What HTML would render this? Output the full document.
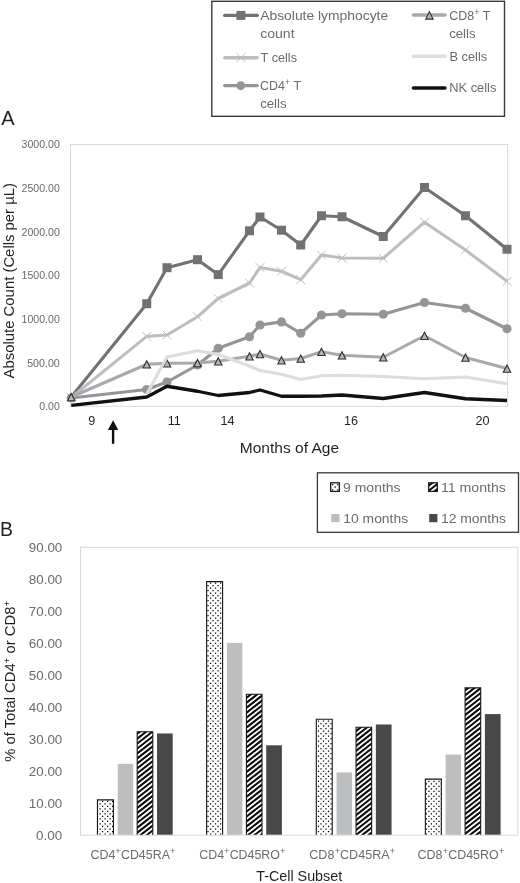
<!DOCTYPE html>
<html lang="en"><head><meta charset="utf-8"><title>Figure</title>
<style>html,body{margin:0;padding:0;background:#fff}svg{display:block}text{font-family:"Liberation Sans", sans-serif}</style>
</head><body>
<svg width="520" height="883" viewBox="0 0 520 883">
<defs>
</defs>
<rect width="520" height="883" fill="#fff"/>
<rect x="211.8" y="1.3" width="292.7" height="115" fill="#fff" stroke="#3a3a3a" stroke-width="1.4"/>
<line x1="224.7" y1="15.4" x2="257.2" y2="15.4" stroke="#717275" stroke-width="3.4" stroke-linecap="round"/>
<rect x="236.40" y="10.90" width="9" height="9" fill="#717275"/>
<text x="260.2" y="19.5" font-size="13" fill="#6a6b6d" textLength="128" lengthAdjust="spacingAndGlyphs">Absolute lymphocyte</text>
<text x="260.2" y="37.6" font-size="13" fill="#6a6b6d" textLength="34.4" lengthAdjust="spacingAndGlyphs">count</text>
<line x1="224.7" y1="57.7" x2="257.2" y2="57.7" stroke="#bcbec0" stroke-width="3.4" stroke-linecap="round"/>
<path d="M236.60 53.30 L245.40 62.10 M236.60 62.10 L245.40 53.30" stroke="#bcbec0" stroke-width="1" fill="none"/>
<text x="260.6" y="61.5" font-size="13" fill="#6a6b6d" textLength="36.4" lengthAdjust="spacingAndGlyphs">T cells</text>
<line x1="224.7" y1="85.6" x2="257.2" y2="85.6" stroke="#939598" stroke-width="3.4" stroke-linecap="round"/>
<circle cx="240.80" cy="85.60" r="4.4" fill="#939598"/>
<text x="260" y="89.6" font-size="13" fill="#6a6b6d" textLength="41" lengthAdjust="spacingAndGlyphs">CD4<tspan font-size="9.5" dy="-4.8">+</tspan><tspan dy="4.8"> T</tspan></text>
<text x="260.2" y="108.3" font-size="13" fill="#6a6b6d" textLength="26.4" lengthAdjust="spacingAndGlyphs">cells</text>
<line x1="413.4" y1="15" x2="445.0" y2="15" stroke="#a7a9ac" stroke-width="3.4" stroke-linecap="round"/>
<path d="M429.40 11.80 L433.11 19.12 L425.69 19.12 Z" fill="#b4b5b7" stroke="#2e2e2e" stroke-width="1.1" stroke-linejoin="miter"/>
<text x="449.3" y="19.9" font-size="13" fill="#6a6b6d" textLength="41" lengthAdjust="spacingAndGlyphs">CD8<tspan font-size="9.5" dy="-4.8">+</tspan><tspan dy="4.8"> T</tspan></text>
<text x="449.2" y="37.6" font-size="13" fill="#6a6b6d" textLength="26.4" lengthAdjust="spacingAndGlyphs">cells</text>
<line x1="413.4" y1="56.3" x2="445.0" y2="56.3" stroke="#dcddde" stroke-width="3.4" stroke-linecap="round"/>
<text x="449.4" y="60.7" font-size="13" fill="#6a6b6d" textLength="37.8" lengthAdjust="spacingAndGlyphs">B cells</text>
<line x1="413.4" y1="88" x2="445.0" y2="88" stroke="#111" stroke-width="3.4" stroke-linecap="round"/>
<text x="449.2" y="92.0" font-size="13" fill="#6a6b6d" textLength="47.2" lengthAdjust="spacingAndGlyphs">NK cells</text>
<text x="1.2" y="125.3" font-size="20" fill="#231f20">A</text>
<text x="0" y="536.3" font-size="19.4" fill="#231f20">B</text>
<rect x="70.5" y="144.5" width="437.2" height="261.8" fill="none" stroke="#d9d9d9" stroke-width="1"/>
<text x="59.8" y="148.40" font-size="10.9" fill="#6a6b6d" text-anchor="end" textLength="38.2" lengthAdjust="spacingAndGlyphs">3000.00</text>
<text x="59.8" y="192.02" font-size="10.9" fill="#6a6b6d" text-anchor="end" textLength="38.2" lengthAdjust="spacingAndGlyphs">2500.00</text>
<text x="59.8" y="235.64" font-size="10.9" fill="#6a6b6d" text-anchor="end" textLength="38.2" lengthAdjust="spacingAndGlyphs">2000.00</text>
<text x="59.8" y="279.26" font-size="10.9" fill="#6a6b6d" text-anchor="end" textLength="38.2" lengthAdjust="spacingAndGlyphs">1500.00</text>
<text x="59.8" y="322.88" font-size="10.9" fill="#6a6b6d" text-anchor="end" textLength="38.2" lengthAdjust="spacingAndGlyphs">1000.00</text>
<text x="59.8" y="366.50" font-size="10.9" fill="#6a6b6d" text-anchor="end" textLength="32.6" lengthAdjust="spacingAndGlyphs">500.00</text>
<text x="59.8" y="410.12" font-size="10.9" fill="#6a6b6d" text-anchor="end" textLength="20.5" lengthAdjust="spacingAndGlyphs">0.00</text>
<text transform="translate(13.6 378.4) rotate(-90)" font-size="13.9" fill="#231f20" textLength="195.4" lengthAdjust="spacingAndGlyphs">Absolute Count (Cells per µL)</text>
<text x="91.75" y="425.4" font-size="12.6" fill="#231f20" text-anchor="middle">9</text>
<text x="174.25" y="425.4" font-size="12.6" fill="#231f20" text-anchor="middle">11</text>
<text x="227.4" y="425.4" font-size="12.6" fill="#231f20" text-anchor="middle">14</text>
<text x="351.1" y="425.4" font-size="12.6" fill="#231f20" text-anchor="middle">16</text>
<text x="482.5" y="425.4" font-size="12.6" fill="#231f20" text-anchor="middle">20</text>
<text x="239.8" y="453.4" font-size="13.9" fill="#231f20" textLength="99.3" lengthAdjust="spacingAndGlyphs">Months of Age</text>
<path d="M113.1 443.8 L113.1 428" stroke="#111" stroke-width="2.4" fill="none"/><path d="M113.1 420.2 L118.3 430.1 L107.9 430.1 Z" fill="#111"/>
<polyline points="71.25,397.00 146.75,303.75 167.00,267.70 197.50,259.70 218.25,274.60 249.50,230.80 260.00,217.00 281.50,230.20 300.75,245.00 321.50,215.75 342.00,216.75 383.25,236.50 424.50,187.50 465.50,215.75 507.00,249.25" fill="none" stroke="#717275" stroke-width="3.1" stroke-linejoin="round" stroke-linecap="butt"/>
<rect x="142.25" y="299.25" width="9" height="9" fill="#717275"/>
<rect x="162.50" y="263.20" width="9" height="9" fill="#717275"/>
<rect x="193.00" y="255.20" width="9" height="9" fill="#717275"/>
<rect x="213.75" y="270.10" width="9" height="9" fill="#717275"/>
<rect x="245.00" y="226.30" width="9" height="9" fill="#717275"/>
<rect x="255.50" y="212.50" width="9" height="9" fill="#717275"/>
<rect x="277.00" y="225.70" width="9" height="9" fill="#717275"/>
<rect x="296.25" y="240.50" width="9" height="9" fill="#717275"/>
<rect x="317.00" y="211.25" width="9" height="9" fill="#717275"/>
<rect x="337.50" y="212.25" width="9" height="9" fill="#717275"/>
<rect x="378.75" y="232.00" width="9" height="9" fill="#717275"/>
<rect x="420.00" y="183.00" width="9" height="9" fill="#717275"/>
<rect x="461.00" y="211.25" width="9" height="9" fill="#717275"/>
<rect x="502.50" y="244.75" width="9" height="9" fill="#717275"/>
<polyline points="71.25,397.50 146.75,336.40 167.00,335.00 197.50,316.75 218.25,298.50 249.50,283.00 260.00,267.50 281.50,271.25 300.75,279.70 321.50,255.00 342.00,258.00 383.25,258.25 424.50,222.20 465.50,250.00 507.00,281.25" fill="none" stroke="#bcbec0" stroke-width="3.1" stroke-linejoin="round" stroke-linecap="butt"/>
<path d="M66.85 393.10 L75.65 401.90 M66.85 401.90 L75.65 393.10" stroke="#bcbec0" stroke-width="1" fill="none"/>
<path d="M142.35 332.00 L151.15 340.80 M142.35 340.80 L151.15 332.00" stroke="#bcbec0" stroke-width="1" fill="none"/>
<path d="M162.60 330.60 L171.40 339.40 M162.60 339.40 L171.40 330.60" stroke="#bcbec0" stroke-width="1" fill="none"/>
<path d="M193.10 312.35 L201.90 321.15 M193.10 321.15 L201.90 312.35" stroke="#bcbec0" stroke-width="1" fill="none"/>
<path d="M213.85 294.10 L222.65 302.90 M213.85 302.90 L222.65 294.10" stroke="#bcbec0" stroke-width="1" fill="none"/>
<path d="M245.10 278.60 L253.90 287.40 M245.10 287.40 L253.90 278.60" stroke="#bcbec0" stroke-width="1" fill="none"/>
<path d="M255.60 263.10 L264.40 271.90 M255.60 271.90 L264.40 263.10" stroke="#bcbec0" stroke-width="1" fill="none"/>
<path d="M277.10 266.85 L285.90 275.65 M277.10 275.65 L285.90 266.85" stroke="#bcbec0" stroke-width="1" fill="none"/>
<path d="M296.35 275.30 L305.15 284.10 M296.35 284.10 L305.15 275.30" stroke="#bcbec0" stroke-width="1" fill="none"/>
<path d="M317.10 250.60 L325.90 259.40 M317.10 259.40 L325.90 250.60" stroke="#bcbec0" stroke-width="1" fill="none"/>
<path d="M337.60 253.60 L346.40 262.40 M337.60 262.40 L346.40 253.60" stroke="#bcbec0" stroke-width="1" fill="none"/>
<path d="M378.85 253.85 L387.65 262.65 M378.85 262.65 L387.65 253.85" stroke="#bcbec0" stroke-width="1" fill="none"/>
<path d="M420.10 217.80 L428.90 226.60 M420.10 226.60 L428.90 217.80" stroke="#bcbec0" stroke-width="1" fill="none"/>
<path d="M461.10 245.60 L469.90 254.40 M461.10 254.40 L469.90 245.60" stroke="#bcbec0" stroke-width="1" fill="none"/>
<path d="M502.60 276.85 L511.40 285.65 M502.60 285.65 L511.40 276.85" stroke="#bcbec0" stroke-width="1" fill="none"/>
<polyline points="71.25,398.00 146.75,389.50 167.00,382.00 197.50,365.00 218.25,348.25 249.50,336.75 260.00,325.00 281.50,321.90 300.75,333.25 321.50,315.00 342.00,313.75 383.25,314.25 424.50,302.50 465.50,308.25 507.00,328.75" fill="none" stroke="#939598" stroke-width="3.1" stroke-linejoin="round" stroke-linecap="butt"/>
<circle cx="71.25" cy="398.00" r="4.6" fill="#939598"/>
<circle cx="146.75" cy="389.50" r="4.6" fill="#939598"/>
<circle cx="167.00" cy="382.00" r="4.6" fill="#939598"/>
<circle cx="197.50" cy="365.00" r="4.6" fill="#939598"/>
<circle cx="218.25" cy="348.25" r="4.6" fill="#939598"/>
<circle cx="249.50" cy="336.75" r="4.6" fill="#939598"/>
<circle cx="260.00" cy="325.00" r="4.6" fill="#939598"/>
<circle cx="281.50" cy="321.90" r="4.6" fill="#939598"/>
<circle cx="300.75" cy="333.25" r="4.6" fill="#939598"/>
<circle cx="321.50" cy="315.00" r="4.6" fill="#939598"/>
<circle cx="342.00" cy="313.75" r="4.6" fill="#939598"/>
<circle cx="383.25" cy="314.25" r="4.6" fill="#939598"/>
<circle cx="424.50" cy="302.50" r="4.6" fill="#939598"/>
<circle cx="465.50" cy="308.25" r="4.6" fill="#939598"/>
<circle cx="507.00" cy="328.75" r="4.6" fill="#939598"/>
<polyline points="71.25,397.00 146.75,364.25 167.00,363.25 197.50,363.00 218.25,361.25 249.50,356.25 260.00,354.00 281.50,360.25 300.75,358.50 321.50,351.75 342.00,355.25 383.25,357.25 424.50,335.75 465.50,357.50 507.00,368.50" fill="none" stroke="#a7a9ac" stroke-width="3.1" stroke-linejoin="round" stroke-linecap="butt"/>
<path d="M71.25 393.40 L74.96 400.72 L67.54 400.72 Z" fill="#b4b5b7" stroke="#2e2e2e" stroke-width="1.1" stroke-linejoin="miter"/>
<path d="M146.75 360.65 L150.46 367.97 L143.04 367.97 Z" fill="#b4b5b7" stroke="#2e2e2e" stroke-width="1.1" stroke-linejoin="miter"/>
<path d="M167.00 359.65 L170.71 366.97 L163.29 366.97 Z" fill="#b4b5b7" stroke="#2e2e2e" stroke-width="1.1" stroke-linejoin="miter"/>
<path d="M197.50 359.40 L201.21 366.72 L193.79 366.72 Z" fill="#b4b5b7" stroke="#2e2e2e" stroke-width="1.1" stroke-linejoin="miter"/>
<path d="M218.25 357.65 L221.96 364.97 L214.54 364.97 Z" fill="#b4b5b7" stroke="#2e2e2e" stroke-width="1.1" stroke-linejoin="miter"/>
<path d="M249.50 352.65 L253.21 359.97 L245.79 359.97 Z" fill="#b4b5b7" stroke="#2e2e2e" stroke-width="1.1" stroke-linejoin="miter"/>
<path d="M260.00 350.40 L263.71 357.72 L256.29 357.72 Z" fill="#b4b5b7" stroke="#2e2e2e" stroke-width="1.1" stroke-linejoin="miter"/>
<path d="M281.50 356.65 L285.21 363.97 L277.79 363.97 Z" fill="#b4b5b7" stroke="#2e2e2e" stroke-width="1.1" stroke-linejoin="miter"/>
<path d="M300.75 354.90 L304.46 362.22 L297.04 362.22 Z" fill="#b4b5b7" stroke="#2e2e2e" stroke-width="1.1" stroke-linejoin="miter"/>
<path d="M321.50 348.15 L325.21 355.47 L317.79 355.47 Z" fill="#b4b5b7" stroke="#2e2e2e" stroke-width="1.1" stroke-linejoin="miter"/>
<path d="M342.00 351.65 L345.71 358.97 L338.29 358.97 Z" fill="#b4b5b7" stroke="#2e2e2e" stroke-width="1.1" stroke-linejoin="miter"/>
<path d="M383.25 353.65 L386.96 360.97 L379.54 360.97 Z" fill="#b4b5b7" stroke="#2e2e2e" stroke-width="1.1" stroke-linejoin="miter"/>
<path d="M424.50 332.15 L428.21 339.47 L420.79 339.47 Z" fill="#b4b5b7" stroke="#2e2e2e" stroke-width="1.1" stroke-linejoin="miter"/>
<path d="M465.50 353.90 L469.21 361.22 L461.79 361.22 Z" fill="#b4b5b7" stroke="#2e2e2e" stroke-width="1.1" stroke-linejoin="miter"/>
<path d="M507.00 364.90 L510.71 372.22 L503.29 372.22 Z" fill="#b4b5b7" stroke="#2e2e2e" stroke-width="1.1" stroke-linejoin="miter"/>
<polyline points="146.75,394.00 167.00,357.00 197.50,350.75 218.25,354.50 249.50,366.00 260.00,370.50 281.50,374.20 300.75,379.50 321.50,375.75 342.00,375.25 383.25,376.50 424.50,378.75 465.50,377.00 507.00,383.75" fill="none" stroke="#dcddde" stroke-width="3.1" stroke-linejoin="round" stroke-linecap="butt"/>
<polyline points="71.25,405.30 146.75,397.00 167.00,386.25 197.50,391.25 218.25,395.50 249.50,392.50 260.00,390.00 281.50,396.25 300.75,396.25 321.50,396.00 342.00,395.00 383.25,398.50 424.50,392.50 465.50,398.75 507.00,400.50" fill="none" stroke="#111" stroke-width="3.3" stroke-linejoin="round" stroke-linecap="butt"/>
<rect x="317.4" y="472.8" width="201.1" height="59.5" fill="#fff" stroke="#3a3a3a" stroke-width="1.3"/>
<clipPath id="cd"><rect x="330.65" y="482.8" width="8.7" height="8.6"/></clipPath>
<rect x="330.65" y="482.8" width="8.7" height="8.6" fill="#fff"/>
<path clip-path="url(#cd)" d="M334.55 486.55h1.3v1.3h-1.3zM331.95 483.95h1.3v1.3h-1.3zM337.15 483.95h1.3v1.3h-1.3zM331.95 489.15h1.3v1.3h-1.3zM337.15 489.15h1.3v1.3h-1.3z" fill="#000"/>
<rect x="330.65" y="482.8" width="8.7" height="8.6" fill="none" stroke="#1c1c1c" stroke-width="1.3"/>
<rect x="331.3" y="514" width="8.2" height="8.1" fill="#bcbec0"/>
<clipPath id="cl"><rect x="428.65" y="482.8" width="8.7" height="8.6"/></clipPath>
<rect x="428.65" y="482.8" width="8.7" height="8.6" fill="#fff"/>
<path clip-path="url(#cl)" d="M425.65 483.23 L440.35 471.75M425.65 488.18 L440.35 476.70M425.65 493.13 L440.35 481.65M425.65 498.08 L440.35 486.60M425.65 503.03 L440.35 491.55" stroke="#0d0d0d" stroke-width="2" fill="none"/>
<rect x="428.65" y="482.8" width="8.7" height="8.6" fill="none" stroke="#1c1c1c" stroke-width="1.3"/>
<rect x="429.2" y="514" width="8.2" height="8.2" fill="#48484a"/>
<text x="343.0" y="491.7" font-size="13.5" fill="#6a6b6d" textLength="57.6" lengthAdjust="spacingAndGlyphs">9 months</text>
<text x="343.3" y="522.6" font-size="13.5" fill="#6a6b6d" textLength="64.8" lengthAdjust="spacingAndGlyphs">10 months</text>
<text x="440.9" y="491.7" font-size="13.5" fill="#6a6b6d" textLength="65" lengthAdjust="spacingAndGlyphs">11 months</text>
<text x="440.9" y="522.6" font-size="13.5" fill="#6a6b6d" textLength="65" lengthAdjust="spacingAndGlyphs">12 months</text>
<rect x="80.5" y="547.3" width="437.3" height="287.9" fill="none" stroke="#d9d9d9" stroke-width="1"/>
<text x="62.3" y="551.50" font-size="13.6" fill="#6a6b6d" text-anchor="end" textLength="33.5" lengthAdjust="spacingAndGlyphs">90.00</text>
<text x="62.3" y="583.50" font-size="13.6" fill="#6a6b6d" text-anchor="end" textLength="33.5" lengthAdjust="spacingAndGlyphs">80.00</text>
<text x="62.3" y="615.50" font-size="13.6" fill="#6a6b6d" text-anchor="end" textLength="33.5" lengthAdjust="spacingAndGlyphs">70.00</text>
<text x="62.3" y="647.50" font-size="13.6" fill="#6a6b6d" text-anchor="end" textLength="33.5" lengthAdjust="spacingAndGlyphs">60.00</text>
<text x="62.3" y="679.50" font-size="13.6" fill="#6a6b6d" text-anchor="end" textLength="33.5" lengthAdjust="spacingAndGlyphs">50.00</text>
<text x="62.3" y="711.50" font-size="13.6" fill="#6a6b6d" text-anchor="end" textLength="33.5" lengthAdjust="spacingAndGlyphs">40.00</text>
<text x="62.3" y="743.50" font-size="13.6" fill="#6a6b6d" text-anchor="end" textLength="33.5" lengthAdjust="spacingAndGlyphs">30.00</text>
<text x="62.3" y="775.50" font-size="13.6" fill="#6a6b6d" text-anchor="end" textLength="33.5" lengthAdjust="spacingAndGlyphs">20.00</text>
<text x="62.3" y="807.50" font-size="13.6" fill="#6a6b6d" text-anchor="end" textLength="33.5" lengthAdjust="spacingAndGlyphs">10.00</text>
<text x="62.3" y="839.50" font-size="13.6" fill="#6a6b6d" text-anchor="end" textLength="26.2" lengthAdjust="spacingAndGlyphs">0.00</text>
<text transform="translate(15.4 761.7) rotate(-90)" font-size="14" fill="#231f20" textLength="161" lengthAdjust="spacingAndGlyphs">% of Total CD4<tspan font-size="9.5" dy="-5">+</tspan><tspan dy="5"> or CD8</tspan><tspan font-size="9.5" dy="-5">+</tspan></text>
<clipPath id="d0"><rect x="97.45" y="799.91" width="15.95" height="34.79"/></clipPath>
<rect x="97.45" y="799.91" width="15.95" height="34.79" fill="#fff"/>
<path clip-path="url(#d0)" d="M96.96 800.76h1.25v1.25h-1.25zM96.96 805.78h1.25v1.25h-1.25zM96.96 810.80h1.25v1.25h-1.25zM96.96 815.82h1.25v1.25h-1.25zM96.96 820.85h1.25v1.25h-1.25zM96.96 825.87h1.25v1.25h-1.25zM96.96 830.88h1.25v1.25h-1.25zM99.47 803.27h1.25v1.25h-1.25zM99.47 808.29h1.25v1.25h-1.25zM99.47 813.31h1.25v1.25h-1.25zM99.47 818.33h1.25v1.25h-1.25zM99.47 823.36h1.25v1.25h-1.25zM99.47 828.38h1.25v1.25h-1.25zM99.47 833.39h1.25v1.25h-1.25zM101.98 800.76h1.25v1.25h-1.25zM101.98 805.78h1.25v1.25h-1.25zM101.98 810.80h1.25v1.25h-1.25zM101.98 815.82h1.25v1.25h-1.25zM101.98 820.85h1.25v1.25h-1.25zM101.98 825.87h1.25v1.25h-1.25zM101.98 830.88h1.25v1.25h-1.25zM104.49 803.27h1.25v1.25h-1.25zM104.49 808.29h1.25v1.25h-1.25zM104.49 813.31h1.25v1.25h-1.25zM104.49 818.33h1.25v1.25h-1.25zM104.49 823.36h1.25v1.25h-1.25zM104.49 828.38h1.25v1.25h-1.25zM104.49 833.39h1.25v1.25h-1.25zM107.00 800.76h1.25v1.25h-1.25zM107.00 805.78h1.25v1.25h-1.25zM107.00 810.80h1.25v1.25h-1.25zM107.00 815.82h1.25v1.25h-1.25zM107.00 820.85h1.25v1.25h-1.25zM107.00 825.87h1.25v1.25h-1.25zM107.00 830.88h1.25v1.25h-1.25zM109.51 803.27h1.25v1.25h-1.25zM109.51 808.29h1.25v1.25h-1.25zM109.51 813.31h1.25v1.25h-1.25zM109.51 818.33h1.25v1.25h-1.25zM109.51 823.36h1.25v1.25h-1.25zM109.51 828.38h1.25v1.25h-1.25zM109.51 833.39h1.25v1.25h-1.25zM112.02 800.76h1.25v1.25h-1.25zM112.02 805.78h1.25v1.25h-1.25zM112.02 810.80h1.25v1.25h-1.25zM112.02 815.82h1.25v1.25h-1.25zM112.02 820.85h1.25v1.25h-1.25zM112.02 825.87h1.25v1.25h-1.25zM112.02 830.88h1.25v1.25h-1.25z" fill="#000"/>
<path d="M97.45 834.70 V799.91 H113.40 V834.70" fill="none" stroke="#161616" stroke-width="1.1"/>
<rect x="117.70" y="763.84" width="15.5" height="70.86" fill="#bcbec0"/>
<clipPath id="c0"><rect x="137.20" y="731.75" width="15.6" height="102.95"/></clipPath>
<rect x="137.20" y="731.75" width="15.6" height="102.95" fill="#fff"/>
<path clip-path="url(#c0)" d="M134.20 731.12 L155.80 714.24M134.20 736.07 L155.80 719.19M134.20 741.02 L155.80 724.14M134.20 745.96 L155.80 729.09M134.20 750.91 L155.80 734.04M134.20 755.86 L155.80 738.99M134.20 760.81 L155.80 743.94M134.20 765.76 L155.80 748.89M134.20 770.71 L155.80 753.83M134.20 775.66 L155.80 758.78M134.20 780.61 L155.80 763.73M134.20 785.56 L155.80 768.68M134.20 790.51 L155.80 773.63M134.20 795.46 L155.80 778.58M134.20 800.41 L155.80 783.53M134.20 805.35 L155.80 788.48M134.20 810.30 L155.80 793.43M134.20 815.25 L155.80 798.38M134.20 820.20 L155.80 803.33M134.20 825.15 L155.80 808.28M134.20 830.10 L155.80 813.22M134.20 835.05 L155.80 818.17M134.20 840.00 L155.80 823.12M134.20 844.95 L155.80 828.07M134.20 849.90 L155.80 833.02" stroke="#0d0d0d" stroke-width="2.1" fill="none"/>
<path d="M137.20 834.70 V731.75 H152.80 V834.70" fill="none" stroke="#161616" stroke-width="1.1"/>
<rect x="157.00" y="733.44" width="15.7" height="101.26" fill="#48484a"/>
<clipPath id="d1"><rect x="206.65" y="581.67" width="15.95" height="253.03"/></clipPath>
<rect x="206.65" y="581.67" width="15.95" height="253.03" fill="#fff"/>
<path clip-path="url(#d1)" d="M207.40 584.90h1.25v1.25h-1.25zM207.40 589.92h1.25v1.25h-1.25zM207.40 594.94h1.25v1.25h-1.25zM207.40 599.97h1.25v1.25h-1.25zM207.40 604.99h1.25v1.25h-1.25zM207.40 610.00h1.25v1.25h-1.25zM207.40 615.02h1.25v1.25h-1.25zM207.40 620.04h1.25v1.25h-1.25zM207.40 625.07h1.25v1.25h-1.25zM207.40 630.09h1.25v1.25h-1.25zM207.40 635.11h1.25v1.25h-1.25zM207.40 640.12h1.25v1.25h-1.25zM207.40 645.14h1.25v1.25h-1.25zM207.40 650.16h1.25v1.25h-1.25zM207.40 655.18h1.25v1.25h-1.25zM207.40 660.20h1.25v1.25h-1.25zM207.40 665.23h1.25v1.25h-1.25zM207.40 670.25h1.25v1.25h-1.25zM207.40 675.26h1.25v1.25h-1.25zM207.40 680.28h1.25v1.25h-1.25zM207.40 685.30h1.25v1.25h-1.25zM207.40 690.33h1.25v1.25h-1.25zM207.40 695.35h1.25v1.25h-1.25zM207.40 700.37h1.25v1.25h-1.25zM207.40 705.38h1.25v1.25h-1.25zM207.40 710.40h1.25v1.25h-1.25zM207.40 715.42h1.25v1.25h-1.25zM207.40 720.44h1.25v1.25h-1.25zM207.40 725.47h1.25v1.25h-1.25zM207.40 730.49h1.25v1.25h-1.25zM207.40 735.50h1.25v1.25h-1.25zM207.40 740.52h1.25v1.25h-1.25zM207.40 745.54h1.25v1.25h-1.25zM207.40 750.56h1.25v1.25h-1.25zM207.40 755.59h1.25v1.25h-1.25zM207.40 760.61h1.25v1.25h-1.25zM207.40 765.62h1.25v1.25h-1.25zM207.40 770.64h1.25v1.25h-1.25zM207.40 775.66h1.25v1.25h-1.25zM207.40 780.68h1.25v1.25h-1.25zM207.40 785.70h1.25v1.25h-1.25zM207.40 790.73h1.25v1.25h-1.25zM207.40 795.75h1.25v1.25h-1.25zM207.40 800.76h1.25v1.25h-1.25zM207.40 805.78h1.25v1.25h-1.25zM207.40 810.80h1.25v1.25h-1.25zM207.40 815.82h1.25v1.25h-1.25zM207.40 820.85h1.25v1.25h-1.25zM207.40 825.87h1.25v1.25h-1.25zM207.40 830.88h1.25v1.25h-1.25zM209.91 582.39h1.25v1.25h-1.25zM209.91 587.41h1.25v1.25h-1.25zM209.91 592.43h1.25v1.25h-1.25zM209.91 597.45h1.25v1.25h-1.25zM209.91 602.48h1.25v1.25h-1.25zM209.91 607.50h1.25v1.25h-1.25zM209.91 612.51h1.25v1.25h-1.25zM209.91 617.53h1.25v1.25h-1.25zM209.91 622.56h1.25v1.25h-1.25zM209.91 627.58h1.25v1.25h-1.25zM209.91 632.60h1.25v1.25h-1.25zM209.91 637.62h1.25v1.25h-1.25zM209.91 642.63h1.25v1.25h-1.25zM209.91 647.65h1.25v1.25h-1.25zM209.91 652.67h1.25v1.25h-1.25zM209.91 657.69h1.25v1.25h-1.25zM209.91 662.71h1.25v1.25h-1.25zM209.91 667.74h1.25v1.25h-1.25zM209.91 672.75h1.25v1.25h-1.25zM209.91 677.77h1.25v1.25h-1.25zM209.91 682.79h1.25v1.25h-1.25zM209.91 687.81h1.25v1.25h-1.25zM209.91 692.84h1.25v1.25h-1.25zM209.91 697.86h1.25v1.25h-1.25zM209.91 702.88h1.25v1.25h-1.25zM209.91 707.89h1.25v1.25h-1.25zM209.91 712.91h1.25v1.25h-1.25zM209.91 717.93h1.25v1.25h-1.25zM209.91 722.95h1.25v1.25h-1.25zM209.91 727.98h1.25v1.25h-1.25zM209.91 733.00h1.25v1.25h-1.25zM209.91 738.01h1.25v1.25h-1.25zM209.91 743.03h1.25v1.25h-1.25zM209.91 748.05h1.25v1.25h-1.25zM209.91 753.07h1.25v1.25h-1.25zM209.91 758.10h1.25v1.25h-1.25zM209.91 763.12h1.25v1.25h-1.25zM209.91 768.13h1.25v1.25h-1.25zM209.91 773.15h1.25v1.25h-1.25zM209.91 778.17h1.25v1.25h-1.25zM209.91 783.19h1.25v1.25h-1.25zM209.91 788.22h1.25v1.25h-1.25zM209.91 793.24h1.25v1.25h-1.25zM209.91 798.25h1.25v1.25h-1.25zM209.91 803.27h1.25v1.25h-1.25zM209.91 808.29h1.25v1.25h-1.25zM209.91 813.31h1.25v1.25h-1.25zM209.91 818.33h1.25v1.25h-1.25zM209.91 823.36h1.25v1.25h-1.25zM209.91 828.38h1.25v1.25h-1.25zM209.91 833.39h1.25v1.25h-1.25zM212.42 584.90h1.25v1.25h-1.25zM212.42 589.92h1.25v1.25h-1.25zM212.42 594.94h1.25v1.25h-1.25zM212.42 599.97h1.25v1.25h-1.25zM212.42 604.99h1.25v1.25h-1.25zM212.42 610.00h1.25v1.25h-1.25zM212.42 615.02h1.25v1.25h-1.25zM212.42 620.04h1.25v1.25h-1.25zM212.42 625.07h1.25v1.25h-1.25zM212.42 630.09h1.25v1.25h-1.25zM212.42 635.11h1.25v1.25h-1.25zM212.42 640.12h1.25v1.25h-1.25zM212.42 645.14h1.25v1.25h-1.25zM212.42 650.16h1.25v1.25h-1.25zM212.42 655.18h1.25v1.25h-1.25zM212.42 660.20h1.25v1.25h-1.25zM212.42 665.23h1.25v1.25h-1.25zM212.42 670.25h1.25v1.25h-1.25zM212.42 675.26h1.25v1.25h-1.25zM212.42 680.28h1.25v1.25h-1.25zM212.42 685.30h1.25v1.25h-1.25zM212.42 690.33h1.25v1.25h-1.25zM212.42 695.35h1.25v1.25h-1.25zM212.42 700.37h1.25v1.25h-1.25zM212.42 705.38h1.25v1.25h-1.25zM212.42 710.40h1.25v1.25h-1.25zM212.42 715.42h1.25v1.25h-1.25zM212.42 720.44h1.25v1.25h-1.25zM212.42 725.47h1.25v1.25h-1.25zM212.42 730.49h1.25v1.25h-1.25zM212.42 735.50h1.25v1.25h-1.25zM212.42 740.52h1.25v1.25h-1.25zM212.42 745.54h1.25v1.25h-1.25zM212.42 750.56h1.25v1.25h-1.25zM212.42 755.59h1.25v1.25h-1.25zM212.42 760.61h1.25v1.25h-1.25zM212.42 765.62h1.25v1.25h-1.25zM212.42 770.64h1.25v1.25h-1.25zM212.42 775.66h1.25v1.25h-1.25zM212.42 780.68h1.25v1.25h-1.25zM212.42 785.70h1.25v1.25h-1.25zM212.42 790.73h1.25v1.25h-1.25zM212.42 795.75h1.25v1.25h-1.25zM212.42 800.76h1.25v1.25h-1.25zM212.42 805.78h1.25v1.25h-1.25zM212.42 810.80h1.25v1.25h-1.25zM212.42 815.82h1.25v1.25h-1.25zM212.42 820.85h1.25v1.25h-1.25zM212.42 825.87h1.25v1.25h-1.25zM212.42 830.88h1.25v1.25h-1.25zM214.94 582.39h1.25v1.25h-1.25zM214.94 587.41h1.25v1.25h-1.25zM214.94 592.43h1.25v1.25h-1.25zM214.94 597.45h1.25v1.25h-1.25zM214.94 602.48h1.25v1.25h-1.25zM214.94 607.50h1.25v1.25h-1.25zM214.94 612.51h1.25v1.25h-1.25zM214.94 617.53h1.25v1.25h-1.25zM214.94 622.56h1.25v1.25h-1.25zM214.94 627.58h1.25v1.25h-1.25zM214.94 632.60h1.25v1.25h-1.25zM214.94 637.62h1.25v1.25h-1.25zM214.94 642.63h1.25v1.25h-1.25zM214.94 647.65h1.25v1.25h-1.25zM214.94 652.67h1.25v1.25h-1.25zM214.94 657.69h1.25v1.25h-1.25zM214.94 662.71h1.25v1.25h-1.25zM214.94 667.74h1.25v1.25h-1.25zM214.94 672.75h1.25v1.25h-1.25zM214.94 677.77h1.25v1.25h-1.25zM214.94 682.79h1.25v1.25h-1.25zM214.94 687.81h1.25v1.25h-1.25zM214.94 692.84h1.25v1.25h-1.25zM214.94 697.86h1.25v1.25h-1.25zM214.94 702.88h1.25v1.25h-1.25zM214.94 707.89h1.25v1.25h-1.25zM214.94 712.91h1.25v1.25h-1.25zM214.94 717.93h1.25v1.25h-1.25zM214.94 722.95h1.25v1.25h-1.25zM214.94 727.98h1.25v1.25h-1.25zM214.94 733.00h1.25v1.25h-1.25zM214.94 738.01h1.25v1.25h-1.25zM214.94 743.03h1.25v1.25h-1.25zM214.94 748.05h1.25v1.25h-1.25zM214.94 753.07h1.25v1.25h-1.25zM214.94 758.10h1.25v1.25h-1.25zM214.94 763.12h1.25v1.25h-1.25zM214.94 768.13h1.25v1.25h-1.25zM214.94 773.15h1.25v1.25h-1.25zM214.94 778.17h1.25v1.25h-1.25zM214.94 783.19h1.25v1.25h-1.25zM214.94 788.22h1.25v1.25h-1.25zM214.94 793.24h1.25v1.25h-1.25zM214.94 798.25h1.25v1.25h-1.25zM214.94 803.27h1.25v1.25h-1.25zM214.94 808.29h1.25v1.25h-1.25zM214.94 813.31h1.25v1.25h-1.25zM214.94 818.33h1.25v1.25h-1.25zM214.94 823.36h1.25v1.25h-1.25zM214.94 828.38h1.25v1.25h-1.25zM214.94 833.39h1.25v1.25h-1.25zM217.44 584.90h1.25v1.25h-1.25zM217.44 589.92h1.25v1.25h-1.25zM217.44 594.94h1.25v1.25h-1.25zM217.44 599.97h1.25v1.25h-1.25zM217.44 604.99h1.25v1.25h-1.25zM217.44 610.00h1.25v1.25h-1.25zM217.44 615.02h1.25v1.25h-1.25zM217.44 620.04h1.25v1.25h-1.25zM217.44 625.07h1.25v1.25h-1.25zM217.44 630.09h1.25v1.25h-1.25zM217.44 635.11h1.25v1.25h-1.25zM217.44 640.12h1.25v1.25h-1.25zM217.44 645.14h1.25v1.25h-1.25zM217.44 650.16h1.25v1.25h-1.25zM217.44 655.18h1.25v1.25h-1.25zM217.44 660.20h1.25v1.25h-1.25zM217.44 665.23h1.25v1.25h-1.25zM217.44 670.25h1.25v1.25h-1.25zM217.44 675.26h1.25v1.25h-1.25zM217.44 680.28h1.25v1.25h-1.25zM217.44 685.30h1.25v1.25h-1.25zM217.44 690.33h1.25v1.25h-1.25zM217.44 695.35h1.25v1.25h-1.25zM217.44 700.37h1.25v1.25h-1.25zM217.44 705.38h1.25v1.25h-1.25zM217.44 710.40h1.25v1.25h-1.25zM217.44 715.42h1.25v1.25h-1.25zM217.44 720.44h1.25v1.25h-1.25zM217.44 725.47h1.25v1.25h-1.25zM217.44 730.49h1.25v1.25h-1.25zM217.44 735.50h1.25v1.25h-1.25zM217.44 740.52h1.25v1.25h-1.25zM217.44 745.54h1.25v1.25h-1.25zM217.44 750.56h1.25v1.25h-1.25zM217.44 755.59h1.25v1.25h-1.25zM217.44 760.61h1.25v1.25h-1.25zM217.44 765.62h1.25v1.25h-1.25zM217.44 770.64h1.25v1.25h-1.25zM217.44 775.66h1.25v1.25h-1.25zM217.44 780.68h1.25v1.25h-1.25zM217.44 785.70h1.25v1.25h-1.25zM217.44 790.73h1.25v1.25h-1.25zM217.44 795.75h1.25v1.25h-1.25zM217.44 800.76h1.25v1.25h-1.25zM217.44 805.78h1.25v1.25h-1.25zM217.44 810.80h1.25v1.25h-1.25zM217.44 815.82h1.25v1.25h-1.25zM217.44 820.85h1.25v1.25h-1.25zM217.44 825.87h1.25v1.25h-1.25zM217.44 830.88h1.25v1.25h-1.25zM219.95 582.39h1.25v1.25h-1.25zM219.95 587.41h1.25v1.25h-1.25zM219.95 592.43h1.25v1.25h-1.25zM219.95 597.45h1.25v1.25h-1.25zM219.95 602.48h1.25v1.25h-1.25zM219.95 607.50h1.25v1.25h-1.25zM219.95 612.51h1.25v1.25h-1.25zM219.95 617.53h1.25v1.25h-1.25zM219.95 622.56h1.25v1.25h-1.25zM219.95 627.58h1.25v1.25h-1.25zM219.95 632.60h1.25v1.25h-1.25zM219.95 637.62h1.25v1.25h-1.25zM219.95 642.63h1.25v1.25h-1.25zM219.95 647.65h1.25v1.25h-1.25zM219.95 652.67h1.25v1.25h-1.25zM219.95 657.69h1.25v1.25h-1.25zM219.95 662.71h1.25v1.25h-1.25zM219.95 667.74h1.25v1.25h-1.25zM219.95 672.75h1.25v1.25h-1.25zM219.95 677.77h1.25v1.25h-1.25zM219.95 682.79h1.25v1.25h-1.25zM219.95 687.81h1.25v1.25h-1.25zM219.95 692.84h1.25v1.25h-1.25zM219.95 697.86h1.25v1.25h-1.25zM219.95 702.88h1.25v1.25h-1.25zM219.95 707.89h1.25v1.25h-1.25zM219.95 712.91h1.25v1.25h-1.25zM219.95 717.93h1.25v1.25h-1.25zM219.95 722.95h1.25v1.25h-1.25zM219.95 727.98h1.25v1.25h-1.25zM219.95 733.00h1.25v1.25h-1.25zM219.95 738.01h1.25v1.25h-1.25zM219.95 743.03h1.25v1.25h-1.25zM219.95 748.05h1.25v1.25h-1.25zM219.95 753.07h1.25v1.25h-1.25zM219.95 758.10h1.25v1.25h-1.25zM219.95 763.12h1.25v1.25h-1.25zM219.95 768.13h1.25v1.25h-1.25zM219.95 773.15h1.25v1.25h-1.25zM219.95 778.17h1.25v1.25h-1.25zM219.95 783.19h1.25v1.25h-1.25zM219.95 788.22h1.25v1.25h-1.25zM219.95 793.24h1.25v1.25h-1.25zM219.95 798.25h1.25v1.25h-1.25zM219.95 803.27h1.25v1.25h-1.25zM219.95 808.29h1.25v1.25h-1.25zM219.95 813.31h1.25v1.25h-1.25zM219.95 818.33h1.25v1.25h-1.25zM219.95 823.36h1.25v1.25h-1.25zM219.95 828.38h1.25v1.25h-1.25zM219.95 833.39h1.25v1.25h-1.25zM222.46 584.90h1.25v1.25h-1.25zM222.46 589.92h1.25v1.25h-1.25zM222.46 594.94h1.25v1.25h-1.25zM222.46 599.97h1.25v1.25h-1.25zM222.46 604.99h1.25v1.25h-1.25zM222.46 610.00h1.25v1.25h-1.25zM222.46 615.02h1.25v1.25h-1.25zM222.46 620.04h1.25v1.25h-1.25zM222.46 625.07h1.25v1.25h-1.25zM222.46 630.09h1.25v1.25h-1.25zM222.46 635.11h1.25v1.25h-1.25zM222.46 640.12h1.25v1.25h-1.25zM222.46 645.14h1.25v1.25h-1.25zM222.46 650.16h1.25v1.25h-1.25zM222.46 655.18h1.25v1.25h-1.25zM222.46 660.20h1.25v1.25h-1.25zM222.46 665.23h1.25v1.25h-1.25zM222.46 670.25h1.25v1.25h-1.25zM222.46 675.26h1.25v1.25h-1.25zM222.46 680.28h1.25v1.25h-1.25zM222.46 685.30h1.25v1.25h-1.25zM222.46 690.33h1.25v1.25h-1.25zM222.46 695.35h1.25v1.25h-1.25zM222.46 700.37h1.25v1.25h-1.25zM222.46 705.38h1.25v1.25h-1.25zM222.46 710.40h1.25v1.25h-1.25zM222.46 715.42h1.25v1.25h-1.25zM222.46 720.44h1.25v1.25h-1.25zM222.46 725.47h1.25v1.25h-1.25zM222.46 730.49h1.25v1.25h-1.25zM222.46 735.50h1.25v1.25h-1.25zM222.46 740.52h1.25v1.25h-1.25zM222.46 745.54h1.25v1.25h-1.25zM222.46 750.56h1.25v1.25h-1.25zM222.46 755.59h1.25v1.25h-1.25zM222.46 760.61h1.25v1.25h-1.25zM222.46 765.62h1.25v1.25h-1.25zM222.46 770.64h1.25v1.25h-1.25zM222.46 775.66h1.25v1.25h-1.25zM222.46 780.68h1.25v1.25h-1.25zM222.46 785.70h1.25v1.25h-1.25zM222.46 790.73h1.25v1.25h-1.25zM222.46 795.75h1.25v1.25h-1.25zM222.46 800.76h1.25v1.25h-1.25zM222.46 805.78h1.25v1.25h-1.25zM222.46 810.80h1.25v1.25h-1.25zM222.46 815.82h1.25v1.25h-1.25zM222.46 820.85h1.25v1.25h-1.25zM222.46 825.87h1.25v1.25h-1.25zM222.46 830.88h1.25v1.25h-1.25z" fill="#000"/>
<path d="M206.65 834.70 V581.67 H222.60 V834.70" fill="none" stroke="#161616" stroke-width="1.1"/>
<rect x="226.90" y="642.88" width="15.5" height="191.82" fill="#bcbec0"/>
<clipPath id="c1"><rect x="246.40" y="694.31" width="15.6" height="140.39"/></clipPath>
<rect x="246.40" y="694.31" width="15.6" height="140.39" fill="#fff"/>
<path clip-path="url(#c1)" d="M243.40 695.29 L265.00 678.42M243.40 700.24 L265.00 683.37M243.40 705.19 L265.00 688.32M243.40 710.14 L265.00 693.26M243.40 715.09 L265.00 698.21M243.40 720.04 L265.00 703.16M243.40 724.99 L265.00 708.11M243.40 729.94 L265.00 713.06M243.40 734.89 L265.00 718.01M243.40 739.84 L265.00 722.96M243.40 744.78 L265.00 727.91M243.40 749.73 L265.00 732.86M243.40 754.68 L265.00 737.81M243.40 759.63 L265.00 742.76M243.40 764.58 L265.00 747.71M243.40 769.53 L265.00 752.65M243.40 774.48 L265.00 757.60M243.40 779.43 L265.00 762.55M243.40 784.38 L265.00 767.50M243.40 789.33 L265.00 772.45M243.40 794.28 L265.00 777.40M243.40 799.23 L265.00 782.35M243.40 804.17 L265.00 787.30M243.40 809.12 L265.00 792.25M243.40 814.07 L265.00 797.20M243.40 819.02 L265.00 802.15M243.40 823.97 L265.00 807.10M243.40 828.92 L265.00 812.04M243.40 833.87 L265.00 816.99M243.40 838.82 L265.00 821.94M243.40 843.77 L265.00 826.89M243.40 848.72 L265.00 831.84M243.40 853.67 L265.00 836.79" stroke="#0d0d0d" stroke-width="2.1" fill="none"/>
<path d="M246.40 834.70 V694.31 H262.00 V834.70" fill="none" stroke="#161616" stroke-width="1.1"/>
<rect x="266.20" y="745.28" width="15.7" height="89.42" fill="#48484a"/>
<clipPath id="d2"><rect x="316.30" y="719.27" width="15.95" height="115.43"/></clipPath>
<rect x="316.30" y="719.27" width="15.95" height="115.43" fill="#fff"/>
<path clip-path="url(#d2)" d="M315.33 722.95h1.25v1.25h-1.25zM315.33 727.98h1.25v1.25h-1.25zM315.33 733.00h1.25v1.25h-1.25zM315.33 738.01h1.25v1.25h-1.25zM315.33 743.03h1.25v1.25h-1.25zM315.33 748.05h1.25v1.25h-1.25zM315.33 753.07h1.25v1.25h-1.25zM315.33 758.10h1.25v1.25h-1.25zM315.33 763.12h1.25v1.25h-1.25zM315.33 768.13h1.25v1.25h-1.25zM315.33 773.15h1.25v1.25h-1.25zM315.33 778.17h1.25v1.25h-1.25zM315.33 783.19h1.25v1.25h-1.25zM315.33 788.22h1.25v1.25h-1.25zM315.33 793.24h1.25v1.25h-1.25zM315.33 798.25h1.25v1.25h-1.25zM315.33 803.27h1.25v1.25h-1.25zM315.33 808.29h1.25v1.25h-1.25zM315.33 813.31h1.25v1.25h-1.25zM315.33 818.33h1.25v1.25h-1.25zM315.33 823.36h1.25v1.25h-1.25zM315.33 828.38h1.25v1.25h-1.25zM315.33 833.39h1.25v1.25h-1.25zM317.84 720.44h1.25v1.25h-1.25zM317.84 725.47h1.25v1.25h-1.25zM317.84 730.49h1.25v1.25h-1.25zM317.84 735.50h1.25v1.25h-1.25zM317.84 740.52h1.25v1.25h-1.25zM317.84 745.54h1.25v1.25h-1.25zM317.84 750.56h1.25v1.25h-1.25zM317.84 755.59h1.25v1.25h-1.25zM317.84 760.61h1.25v1.25h-1.25zM317.84 765.62h1.25v1.25h-1.25zM317.84 770.64h1.25v1.25h-1.25zM317.84 775.66h1.25v1.25h-1.25zM317.84 780.68h1.25v1.25h-1.25zM317.84 785.70h1.25v1.25h-1.25zM317.84 790.73h1.25v1.25h-1.25zM317.84 795.75h1.25v1.25h-1.25zM317.84 800.76h1.25v1.25h-1.25zM317.84 805.78h1.25v1.25h-1.25zM317.84 810.80h1.25v1.25h-1.25zM317.84 815.82h1.25v1.25h-1.25zM317.84 820.85h1.25v1.25h-1.25zM317.84 825.87h1.25v1.25h-1.25zM317.84 830.88h1.25v1.25h-1.25zM320.36 722.95h1.25v1.25h-1.25zM320.36 727.98h1.25v1.25h-1.25zM320.36 733.00h1.25v1.25h-1.25zM320.36 738.01h1.25v1.25h-1.25zM320.36 743.03h1.25v1.25h-1.25zM320.36 748.05h1.25v1.25h-1.25zM320.36 753.07h1.25v1.25h-1.25zM320.36 758.10h1.25v1.25h-1.25zM320.36 763.12h1.25v1.25h-1.25zM320.36 768.13h1.25v1.25h-1.25zM320.36 773.15h1.25v1.25h-1.25zM320.36 778.17h1.25v1.25h-1.25zM320.36 783.19h1.25v1.25h-1.25zM320.36 788.22h1.25v1.25h-1.25zM320.36 793.24h1.25v1.25h-1.25zM320.36 798.25h1.25v1.25h-1.25zM320.36 803.27h1.25v1.25h-1.25zM320.36 808.29h1.25v1.25h-1.25zM320.36 813.31h1.25v1.25h-1.25zM320.36 818.33h1.25v1.25h-1.25zM320.36 823.36h1.25v1.25h-1.25zM320.36 828.38h1.25v1.25h-1.25zM320.36 833.39h1.25v1.25h-1.25zM322.87 720.44h1.25v1.25h-1.25zM322.87 725.47h1.25v1.25h-1.25zM322.87 730.49h1.25v1.25h-1.25zM322.87 735.50h1.25v1.25h-1.25zM322.87 740.52h1.25v1.25h-1.25zM322.87 745.54h1.25v1.25h-1.25zM322.87 750.56h1.25v1.25h-1.25zM322.87 755.59h1.25v1.25h-1.25zM322.87 760.61h1.25v1.25h-1.25zM322.87 765.62h1.25v1.25h-1.25zM322.87 770.64h1.25v1.25h-1.25zM322.87 775.66h1.25v1.25h-1.25zM322.87 780.68h1.25v1.25h-1.25zM322.87 785.70h1.25v1.25h-1.25zM322.87 790.73h1.25v1.25h-1.25zM322.87 795.75h1.25v1.25h-1.25zM322.87 800.76h1.25v1.25h-1.25zM322.87 805.78h1.25v1.25h-1.25zM322.87 810.80h1.25v1.25h-1.25zM322.87 815.82h1.25v1.25h-1.25zM322.87 820.85h1.25v1.25h-1.25zM322.87 825.87h1.25v1.25h-1.25zM322.87 830.88h1.25v1.25h-1.25zM325.38 722.95h1.25v1.25h-1.25zM325.38 727.98h1.25v1.25h-1.25zM325.38 733.00h1.25v1.25h-1.25zM325.38 738.01h1.25v1.25h-1.25zM325.38 743.03h1.25v1.25h-1.25zM325.38 748.05h1.25v1.25h-1.25zM325.38 753.07h1.25v1.25h-1.25zM325.38 758.10h1.25v1.25h-1.25zM325.38 763.12h1.25v1.25h-1.25zM325.38 768.13h1.25v1.25h-1.25zM325.38 773.15h1.25v1.25h-1.25zM325.38 778.17h1.25v1.25h-1.25zM325.38 783.19h1.25v1.25h-1.25zM325.38 788.22h1.25v1.25h-1.25zM325.38 793.24h1.25v1.25h-1.25zM325.38 798.25h1.25v1.25h-1.25zM325.38 803.27h1.25v1.25h-1.25zM325.38 808.29h1.25v1.25h-1.25zM325.38 813.31h1.25v1.25h-1.25zM325.38 818.33h1.25v1.25h-1.25zM325.38 823.36h1.25v1.25h-1.25zM325.38 828.38h1.25v1.25h-1.25zM325.38 833.39h1.25v1.25h-1.25zM327.88 720.44h1.25v1.25h-1.25zM327.88 725.47h1.25v1.25h-1.25zM327.88 730.49h1.25v1.25h-1.25zM327.88 735.50h1.25v1.25h-1.25zM327.88 740.52h1.25v1.25h-1.25zM327.88 745.54h1.25v1.25h-1.25zM327.88 750.56h1.25v1.25h-1.25zM327.88 755.59h1.25v1.25h-1.25zM327.88 760.61h1.25v1.25h-1.25zM327.88 765.62h1.25v1.25h-1.25zM327.88 770.64h1.25v1.25h-1.25zM327.88 775.66h1.25v1.25h-1.25zM327.88 780.68h1.25v1.25h-1.25zM327.88 785.70h1.25v1.25h-1.25zM327.88 790.73h1.25v1.25h-1.25zM327.88 795.75h1.25v1.25h-1.25zM327.88 800.76h1.25v1.25h-1.25zM327.88 805.78h1.25v1.25h-1.25zM327.88 810.80h1.25v1.25h-1.25zM327.88 815.82h1.25v1.25h-1.25zM327.88 820.85h1.25v1.25h-1.25zM327.88 825.87h1.25v1.25h-1.25zM327.88 830.88h1.25v1.25h-1.25zM330.39 722.95h1.25v1.25h-1.25zM330.39 727.98h1.25v1.25h-1.25zM330.39 733.00h1.25v1.25h-1.25zM330.39 738.01h1.25v1.25h-1.25zM330.39 743.03h1.25v1.25h-1.25zM330.39 748.05h1.25v1.25h-1.25zM330.39 753.07h1.25v1.25h-1.25zM330.39 758.10h1.25v1.25h-1.25zM330.39 763.12h1.25v1.25h-1.25zM330.39 768.13h1.25v1.25h-1.25zM330.39 773.15h1.25v1.25h-1.25zM330.39 778.17h1.25v1.25h-1.25zM330.39 783.19h1.25v1.25h-1.25zM330.39 788.22h1.25v1.25h-1.25zM330.39 793.24h1.25v1.25h-1.25zM330.39 798.25h1.25v1.25h-1.25zM330.39 803.27h1.25v1.25h-1.25zM330.39 808.29h1.25v1.25h-1.25zM330.39 813.31h1.25v1.25h-1.25zM330.39 818.33h1.25v1.25h-1.25zM330.39 823.36h1.25v1.25h-1.25zM330.39 828.38h1.25v1.25h-1.25zM330.39 833.39h1.25v1.25h-1.25z" fill="#000"/>
<path d="M316.30 834.70 V719.27 H332.25 V834.70" fill="none" stroke="#161616" stroke-width="1.1"/>
<rect x="336.55" y="772.48" width="15.5" height="62.22" fill="#bcbec0"/>
<clipPath id="c2"><rect x="356.05" y="727.27" width="15.6" height="107.43"/></clipPath>
<rect x="356.05" y="727.27" width="15.6" height="107.43" fill="#fff"/>
<path clip-path="url(#c2)" d="M353.05 728.40 L374.65 711.53M353.05 733.35 L374.65 716.48M353.05 738.30 L374.65 721.43M353.05 743.25 L374.65 726.38M353.05 748.20 L374.65 731.33M353.05 753.15 L374.65 736.27M353.05 758.10 L374.65 741.22M353.05 763.05 L374.65 746.17M353.05 768.00 L374.65 751.12M353.05 772.95 L374.65 756.07M353.05 777.90 L374.65 761.02M353.05 782.85 L374.65 765.97M353.05 787.79 L374.65 770.92M353.05 792.74 L374.65 775.87M353.05 797.69 L374.65 780.82M353.05 802.64 L374.65 785.77M353.05 807.59 L374.65 790.72M353.05 812.54 L374.65 795.66M353.05 817.49 L374.65 800.61M353.05 822.44 L374.65 805.56M353.05 827.39 L374.65 810.51M353.05 832.34 L374.65 815.46M353.05 837.29 L374.65 820.41M353.05 842.24 L374.65 825.36M353.05 847.18 L374.65 830.31M353.05 852.13 L374.65 835.26" stroke="#0d0d0d" stroke-width="2.1" fill="none"/>
<path d="M356.05 834.70 V727.27 H371.65 V834.70" fill="none" stroke="#161616" stroke-width="1.1"/>
<rect x="375.85" y="724.48" width="15.7" height="110.22" fill="#48484a"/>
<clipPath id="d3"><rect x="425.35" y="779.11" width="15.95" height="55.59"/></clipPath>
<rect x="425.35" y="779.11" width="15.95" height="55.59" fill="#fff"/>
<path clip-path="url(#d3)" d="M425.77 778.17h1.25v1.25h-1.25zM425.77 783.19h1.25v1.25h-1.25zM425.77 788.22h1.25v1.25h-1.25zM425.77 793.24h1.25v1.25h-1.25zM425.77 798.25h1.25v1.25h-1.25zM425.77 803.27h1.25v1.25h-1.25zM425.77 808.29h1.25v1.25h-1.25zM425.77 813.31h1.25v1.25h-1.25zM425.77 818.33h1.25v1.25h-1.25zM425.77 823.36h1.25v1.25h-1.25zM425.77 828.38h1.25v1.25h-1.25zM425.77 833.39h1.25v1.25h-1.25zM428.28 780.68h1.25v1.25h-1.25zM428.28 785.70h1.25v1.25h-1.25zM428.28 790.73h1.25v1.25h-1.25zM428.28 795.75h1.25v1.25h-1.25zM428.28 800.76h1.25v1.25h-1.25zM428.28 805.78h1.25v1.25h-1.25zM428.28 810.80h1.25v1.25h-1.25zM428.28 815.82h1.25v1.25h-1.25zM428.28 820.85h1.25v1.25h-1.25zM428.28 825.87h1.25v1.25h-1.25zM428.28 830.88h1.25v1.25h-1.25zM430.79 778.17h1.25v1.25h-1.25zM430.79 783.19h1.25v1.25h-1.25zM430.79 788.22h1.25v1.25h-1.25zM430.79 793.24h1.25v1.25h-1.25zM430.79 798.25h1.25v1.25h-1.25zM430.79 803.27h1.25v1.25h-1.25zM430.79 808.29h1.25v1.25h-1.25zM430.79 813.31h1.25v1.25h-1.25zM430.79 818.33h1.25v1.25h-1.25zM430.79 823.36h1.25v1.25h-1.25zM430.79 828.38h1.25v1.25h-1.25zM430.79 833.39h1.25v1.25h-1.25zM433.30 780.68h1.25v1.25h-1.25zM433.30 785.70h1.25v1.25h-1.25zM433.30 790.73h1.25v1.25h-1.25zM433.30 795.75h1.25v1.25h-1.25zM433.30 800.76h1.25v1.25h-1.25zM433.30 805.78h1.25v1.25h-1.25zM433.30 810.80h1.25v1.25h-1.25zM433.30 815.82h1.25v1.25h-1.25zM433.30 820.85h1.25v1.25h-1.25zM433.30 825.87h1.25v1.25h-1.25zM433.30 830.88h1.25v1.25h-1.25zM435.81 778.17h1.25v1.25h-1.25zM435.81 783.19h1.25v1.25h-1.25zM435.81 788.22h1.25v1.25h-1.25zM435.81 793.24h1.25v1.25h-1.25zM435.81 798.25h1.25v1.25h-1.25zM435.81 803.27h1.25v1.25h-1.25zM435.81 808.29h1.25v1.25h-1.25zM435.81 813.31h1.25v1.25h-1.25zM435.81 818.33h1.25v1.25h-1.25zM435.81 823.36h1.25v1.25h-1.25zM435.81 828.38h1.25v1.25h-1.25zM435.81 833.39h1.25v1.25h-1.25zM438.32 780.68h1.25v1.25h-1.25zM438.32 785.70h1.25v1.25h-1.25zM438.32 790.73h1.25v1.25h-1.25zM438.32 795.75h1.25v1.25h-1.25zM438.32 800.76h1.25v1.25h-1.25zM438.32 805.78h1.25v1.25h-1.25zM438.32 810.80h1.25v1.25h-1.25zM438.32 815.82h1.25v1.25h-1.25zM438.32 820.85h1.25v1.25h-1.25zM438.32 825.87h1.25v1.25h-1.25zM438.32 830.88h1.25v1.25h-1.25zM440.83 778.17h1.25v1.25h-1.25zM440.83 783.19h1.25v1.25h-1.25zM440.83 788.22h1.25v1.25h-1.25zM440.83 793.24h1.25v1.25h-1.25zM440.83 798.25h1.25v1.25h-1.25zM440.83 803.27h1.25v1.25h-1.25zM440.83 808.29h1.25v1.25h-1.25zM440.83 813.31h1.25v1.25h-1.25zM440.83 818.33h1.25v1.25h-1.25zM440.83 823.36h1.25v1.25h-1.25zM440.83 828.38h1.25v1.25h-1.25zM440.83 833.39h1.25v1.25h-1.25z" fill="#000"/>
<path d="M425.35 834.70 V779.11 H441.30 V834.70" fill="none" stroke="#161616" stroke-width="1.1"/>
<rect x="445.60" y="754.56" width="15.5" height="80.14" fill="#bcbec0"/>
<clipPath id="c3"><rect x="465.10" y="687.91" width="15.6" height="146.79"/></clipPath>
<rect x="465.10" y="687.91" width="15.6" height="146.79" fill="#fff"/>
<path clip-path="url(#c3)" d="M462.10 687.75 L483.70 670.87M462.10 692.70 L483.70 675.82M462.10 697.65 L483.70 680.77M462.10 702.60 L483.70 685.72M462.10 707.54 L483.70 690.67M462.10 712.49 L483.70 695.62M462.10 717.44 L483.70 700.57M462.10 722.39 L483.70 705.52M462.10 727.34 L483.70 710.47M462.10 732.29 L483.70 715.41M462.10 737.24 L483.70 720.36M462.10 742.19 L483.70 725.31M462.10 747.14 L483.70 730.26M462.10 752.09 L483.70 735.21M462.10 757.04 L483.70 740.16M462.10 761.99 L483.70 745.11M462.10 766.93 L483.70 750.06M462.10 771.88 L483.70 755.01M462.10 776.83 L483.70 759.96M462.10 781.78 L483.70 764.91M462.10 786.73 L483.70 769.86M462.10 791.68 L483.70 774.80M462.10 796.63 L483.70 779.75M462.10 801.58 L483.70 784.70M462.10 806.53 L483.70 789.65M462.10 811.48 L483.70 794.60M462.10 816.43 L483.70 799.55M462.10 821.38 L483.70 804.50M462.10 826.32 L483.70 809.45M462.10 831.27 L483.70 814.40M462.10 836.22 L483.70 819.35M462.10 841.17 L483.70 824.30M462.10 846.12 L483.70 829.25M462.10 851.07 L483.70 834.19" stroke="#0d0d0d" stroke-width="2.1" fill="none"/>
<path d="M465.10 834.70 V687.91 H480.70 V834.70" fill="none" stroke="#161616" stroke-width="1.1"/>
<rect x="484.90" y="714.08" width="15.7" height="120.62" fill="#48484a"/>
<text x="90.5" y="858.5" font-size="12.2" fill="#6a6b6d" textLength="85" lengthAdjust="spacingAndGlyphs">CD4<tspan font-size="9.3" dy="-4.6">+</tspan><tspan dy="4.6">CD45RA</tspan><tspan font-size="9.3" dy="-4.6">+</tspan></text>
<text x="199.3" y="858.5" font-size="12.2" fill="#6a6b6d" textLength="86.2" lengthAdjust="spacingAndGlyphs">CD4<tspan font-size="9.3" dy="-4.6">+</tspan><tspan dy="4.6">CD45RO</tspan><tspan font-size="9.3" dy="-4.6">+</tspan></text>
<text x="309.3" y="858.5" font-size="12.2" fill="#6a6b6d" textLength="85.9" lengthAdjust="spacingAndGlyphs">CD8<tspan font-size="9.3" dy="-4.6">+</tspan><tspan dy="4.6">CD45RA</tspan><tspan font-size="9.3" dy="-4.6">+</tspan></text>
<text x="417.6" y="858.5" font-size="12.2" fill="#6a6b6d" textLength="86.7" lengthAdjust="spacingAndGlyphs">CD8<tspan font-size="9.3" dy="-4.6">+</tspan><tspan dy="4.6">CD45RO</tspan><tspan font-size="9.3" dy="-4.6">+</tspan></text>
<text x="256.2" y="881" font-size="13.9" fill="#231f20" textLength="86" lengthAdjust="spacingAndGlyphs">T-Cell Subset</text>
</svg>
</body></html>
